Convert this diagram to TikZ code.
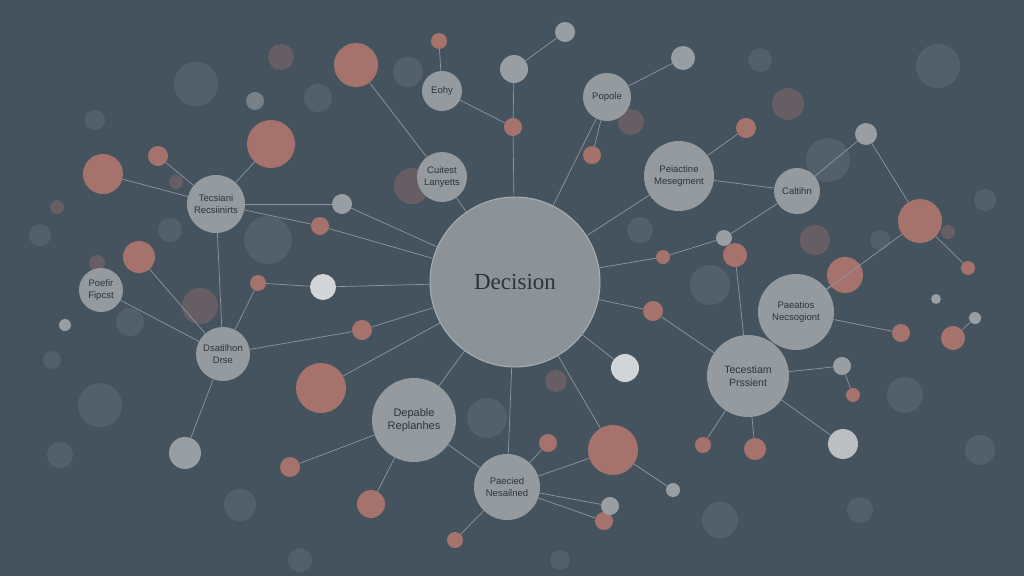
\documentclass[tikz,border=0pt]{standalone}
\usepackage{fontspec}
\setsansfont{Liberation Sans}
\setmainfont{Liberation Serif}
\begin{document}
\begin{tikzpicture}[x=1pt,y=-1pt,
  lab/.style={circle,fill=labfill,text=labtext,font=\sffamily\fontsize{9.5}{12}\selectfont,align=center,minimum size=#1,inner sep=0pt},
  pk/.style={circle,fill=pinkc,minimum size=#1,inner sep=0pt},
  gy/.style={circle,fill=grayc,minimum size=#1,inner sep=0pt},
  wt/.style={circle,fill=whitec,minimum size=#1,inner sep=0pt},
  bk/.style={circle,fill=bokehc,fill opacity=0.18,minimum size=#1,inner sep=0pt},
  bkp/.style={circle,fill=pinkc,fill opacity=0.35,minimum size=#1,inner sep=0pt},
  ed/.style={draw=edgec,line width=0.7pt}]
\definecolor{bgc}{RGB}{69,83,94}
\definecolor{labfill}{RGB}{148,154,158}
\definecolor{labtext}{RGB}{45,51,57}
\definecolor{pinkc}{RGB}{166,115,108}
\definecolor{grayc}{RGB}{152,158,162}
\definecolor{whitec}{RGB}{210,213,216}
\definecolor{bokehc}{RGB}{150,158,164}
\definecolor{edgec}{RGB}{140,151,159}
\definecolor{decfill}{RGB}{140,147,152}
\definecolor{decline}{RGB}{168,174,178}
\fill[bgc] (0,0) rectangle (1024,576);
\useasboundingbox (0,0) rectangle (1024,576);
% bokeh background
\foreach \x/\y/\d in {196/84/44, 938/66/44, 100/405/44, 268/240/48, 40/235/22, 487/418/40, 710/285/40, 905/395/36, 828/160/44, 240/505/32, 720/520/36, 408/72/30, 318/98/28, 130/322/28, 60/455/26, 980/450/30, 860/510/26, 560/235/30, 170/230/24, 985/200/22, 640/230/26, 95/120/20, 450/300/24, 880/240/20, 560/560/20, 300/560/24, 760/60/24, 52/360/18}
  \node[bk=\d] at (\x,\y) {};
\foreach \x/\y/\d in {200/306/36, 788/104/32, 281/57/26, 631/122/26, 412/186/36, 815/240/30, 556/381/22, 97/263/16, 57/207/14, 176/182/14, 948/232/14}
  \node[bkp=\d] at (\x,\y) {};
% labelled nodes
\node[circle,fill=decfill,draw=decline,line width=1pt,minimum size=170pt,inner sep=0pt,text=labtext,font=\fontsize{23}{25}\selectfont] (dec) at (515,282) {Decision};
\node[lab=58] (tec) at (216,204) {Tecsiani\\Recsiinirts};
\node[lab=44] (poe) at (101,290) {Poefir\\Fipcst};
\node[lab=54] (dsa) at (223,354) {Dsatilhon\\Drse};
\node[lab=40] (eoh) at (442,91) {Eohy};
\node[lab=50] (cui) at (442,177) {Cuitest\\Lanyetts};
\node[lab=48] (pop) at (607,97) {Popole};
\node[lab=70] (ped) at (679,176) {Peiactine\\Mesegment};
\node[lab=46] (cal) at (797,191) {Caltihn};
\node[lab=76] (pae) at (796,312) {Paeatios\\Necsogiont};
\node[lab=82,font=\sffamily\fontsize{10.5}{13}\selectfont] (tes) at (748,376) {Tecestiam\\Prssient};
\node[lab=84,font=\sffamily\fontsize{11}{13.5}\selectfont] (dep) at (414,420) {Depable\\Replanhes};
\node[lab=66] (pcd) at (507,487) {Paecied\\Nesailned};
% pink nodes
\node[pk=44] (p1) at (356,65) {};
\node[pk=48] (p2) at (271,144) {};
\node[pk=40] (p3) at (103,174) {};
\node[pk=32] (p4) at (139,257) {};
\node[pk=20] (p5) at (158,156) {};
\node[pk=16] (p6) at (439,41) {};
\node[pk=18] (p7) at (513,127) {};
\node[pk=18] (p8) at (592,155) {};
\node[pk=20] (p9) at (746,128) {};
\node[pk=44] (p10) at (920,221) {};
\node[pk=24] (p11) at (735,255) {};
\node[pk=14] (p12) at (663,257) {};
\node[pk=36] (p13) at (845,275) {};
\node[pk=14] (p14) at (968,268) {};
\node[pk=24] (p15) at (953,338) {};
\node[pk=18] (p16) at (901,333) {};
\node[pk=14] (p17) at (853,395) {};
\node[pk=18] (p18) at (320,226) {};
\node[pk=16] (p19) at (258,283) {};
\node[pk=20] (p20) at (362,330) {};
\node[pk=50] (p21) at (321,388) {};
\node[pk=20] (p22) at (290,467) {};
\node[pk=28] (p23) at (371,504) {};
\node[pk=18] (p24) at (548,443) {};
\node[pk=50] (p25) at (613,450) {};
\node[pk=16] (p26) at (703,445) {};
\node[pk=22] (p27) at (755,449) {};
\node[pk=20] (p28) at (653,311) {};
\node[pk=18] (p29) at (604,521) {};
\node[pk=16] (p30) at (455,540) {};
% gray nodes
\node[gy=20] (g1) at (565,32) {};
\node[gy=28] (g2) at (514,69) {};
\node[gy=24] (g3) at (683,58) {};
\node[gy=22] (g4) at (866,134) {};
\node[gy=20] (g5) at (342,204) {};
\node[gy=16] (g6) at (724,238) {};
\node[gy=18] (g7) at (842,366) {};
\node[gy=30,fill=whitec!60!grayc] (g8) at (843,444) {};
\node[gy=32] (g9) at (185,453) {};
\node[gy=12] (g10) at (975,318) {};
\node[gy=18] (g11) at (610,506) {};
\node[gy=14] (g12) at (673,490) {};
\node[gy=12] (g13) at (65,325) {};
\node[gy=10] (g14) at (936,299) {};
\node[gy=18,fill opacity=0.6] (g15) at (255,101) {};
\node[wt=26] (w1) at (323,287) {};
\node[wt=28] (w2) at (625,368) {};
% edges
\foreach \a/\b in {tec/p2, tec/p5, tec/p3, tec/p18, tec/g5, tec/dsa, g5/dec, p18/dec,
  p19/w1, w1/dec, dsa/p19, dsa/p20, p20/dec, dsa/g9, dsa/p4, poe/dsa,
  p21/dec, dep/dec, dep/p22, dep/p23, dep/pcd,
  pcd/dec, pcd/p30, pcd/p29, pcd/p24, pcd/p25, pcd/g11,
  dec/p25, dec/w2, dec/p28, p28/tes, dec/p12, p12/g6, g6/cal, dec/ped, dec/pop,
  dec/p7, p7/g2, g2/g1, dec/cui, cui/p1, eoh/p6, eoh/p7, pop/g3, pop/p8,
  ped/p9, ped/cal, cal/g4, pae/p13, pae/p10, pae/p16, pae/tes, tes/p11,
  tes/p27, tes/g7, tes/p26, tes/g8, p10/p14, p10/g4, p15/g10, g7/p17, p25/g12, p11/g6}
  \draw[ed] (\a) -- (\b);
\end{tikzpicture}
\end{document}
